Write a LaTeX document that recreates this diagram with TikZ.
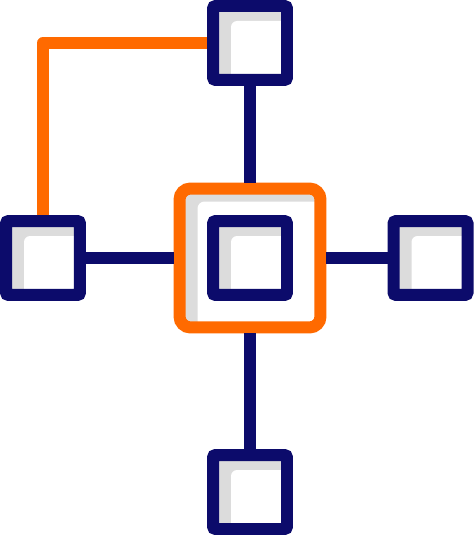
\documentclass[tikz,border=0pt]{standalone}
\usepackage{tikz}
\definecolor{navy}{HTML}{0C0B6B}
\definecolor{flame}{HTML}{FF6A00}
\definecolor{shade}{HTML}{DCDCDC}
\tikzset{
    unit/.style={
        rectangle, draw=navy, fill=shade, line width=0.24cm,
        minimum size=1.48cm, inner sep=0pt, rounded corners=1.5pt, % small square
        path picture={\fill[white, rounded corners=0.12cm]
            ([xshift=0.36cm, yshift=-0.30cm]path picture bounding box.north west)
            rectangle ([xshift=0.2cm, yshift=-0.2cm]path picture bounding box.south east);}
    },
    hub/.style={
        rectangle, draw=flame, fill=shade, line width=0.24cm,
        minimum width=2.82cm, minimum height=2.78cm, inner sep=0pt, rounded corners=0.22cm,
        path picture={\fill[white, rounded corners=0.14cm]
            ([xshift=0.36cm, yshift=-0.26cm]path picture bounding box.north west)
            rectangle ([xshift=0.2cm, yshift=-0.2cm]path picture bounding box.south east);}
    },
    link/.style={draw=navy, line width=0.23cm},
    flamelink/.style={draw=flame, line width=0.24cm, line join=round}
}
\begin{document}
\begin{tikzpicture}[x=0.02cm, y=-0.02cm]
    \useasboundingbox (0,0) rectangle (474,536);

    % centre
    \node[hub] (hub) at (250,258) {};
    \node[unit] (core) at (250,258) {};

    % outer squares
    \node[unit] (top) at (250,43) {};
    \node[unit] (left) at (43,258) {};
    \node[unit] (right) at (430.5,258) {};
    \node[unit] (bottom) at (250,492) {};

    % links
    \draw[link] (top) -- (hub);
    \draw[link] (hub) -- (bottom);
    \draw[link] (left) -- (hub);
    \draw[link] (hub) -- (right);

    \draw[flamelink] (left.north) |- (top.west);
\end{tikzpicture}
\end{document}
